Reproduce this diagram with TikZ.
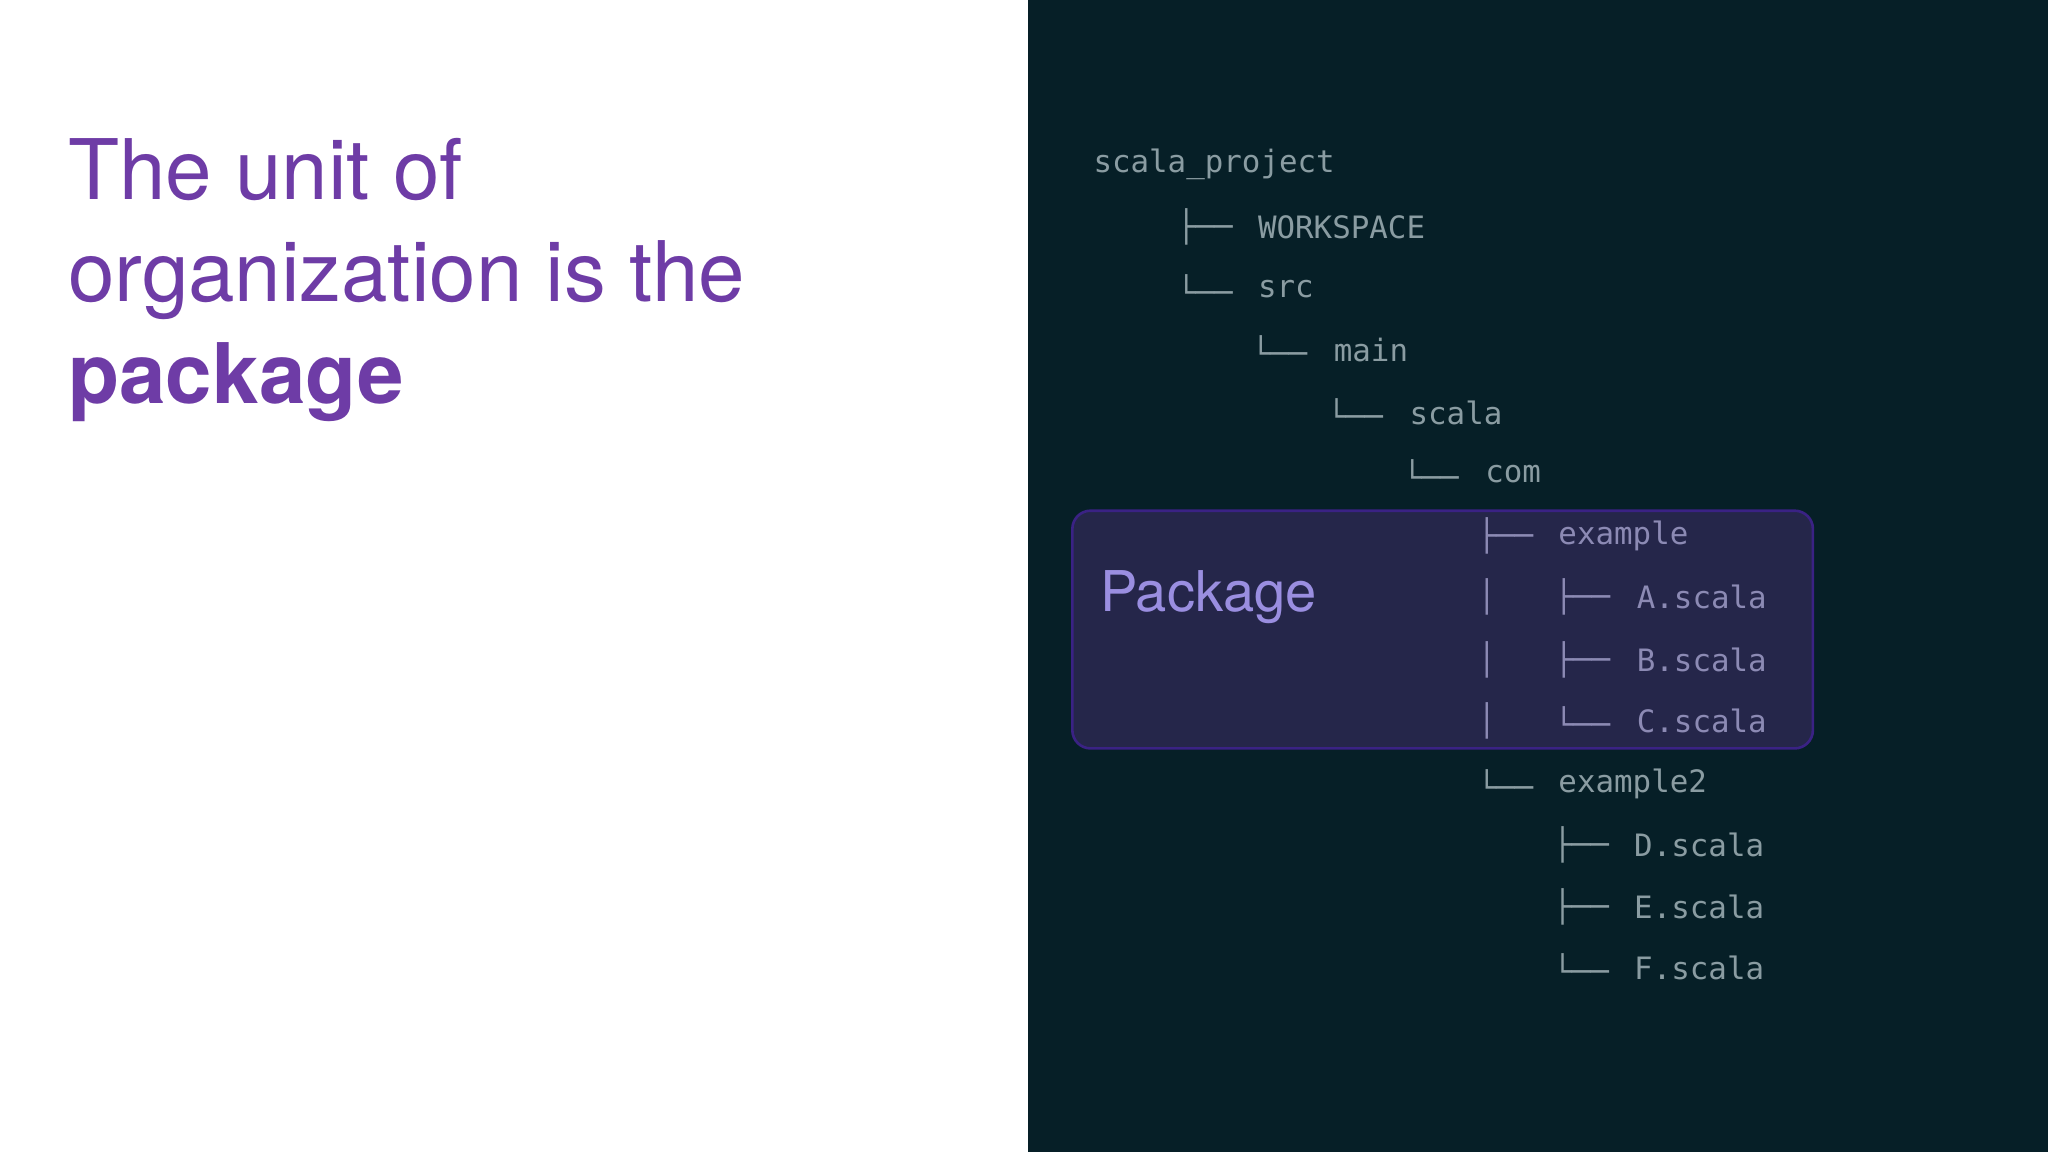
\documentclass[tikz,border=0pt]{standalone}
\usepackage{fontspec}
\setmainfont{TeX Gyre Heros}
\newfontfamily\mono{DejaVu Sans Mono}
\definecolor{bgdark}{HTML}{061F27}
\definecolor{boxfill}{HTML}{25264A}
\definecolor{boxline}{HTML}{3A2284}
\definecolor{titlec}{HTML}{6E3CA6}
\definecolor{treec}{HTML}{8A9CA2}
\definecolor{treein}{HTML}{8C8AB4}
\definecolor{pkgc}{HTML}{9A8EE0}
\begin{document}
\begin{tikzpicture}[x=1pt,y=-1pt,
  row/.style={anchor=west,inner sep=0,font=\mono\fontsize{23.6}{24}\selectfont,text=treec},
  rowin/.style={row,text=treein},
  ttl/.style={anchor=base west,inner sep=0,text=titlec,font=\fontsize{64}{78}\selectfont}]
\useasboundingbox (0,0) rectangle (1568,882);
\fill[white] (0,0) rectangle (787,882);
\fill[bgdark] (787,0) rectangle (1568,882);
\node[ttl] (t1) at (52,153) {The unit of};
\node[ttl] (t2) at (52,231) {organization is the};
\node[ttl] (t3) at (52,309) {\textbf{package}};
\draw[boxline,line width=2pt,fill=boxfill,rounded corners=14pt] (821,391) rectangle (1388,573);
\node[anchor=west,inner sep=0,text=pkgc,font=\fontsize{43}{50}\selectfont] (pkg) at (842,457) {Package};
\node[row] (n1) at (837,126) {scala\_project};
\node[row] (g2) at (901,174) {├──}; \node[row] (n2) at (963,174) {WORKSPACE};
\node[row] (g3) at (901,221) {└──}; \node[row] (n3) at (963,221) {src};
\node[row] (g4) at (958,268) {└──}; \node[row] (n4) at (1021,268) {main};
\node[row] (g5) at (1016,316) {└──}; \node[row] (n5) at (1079,316) {scala};
\node[row] (g6) at (1074,363) {└──}; \node[row] (n6) at (1137,363) {com};
\node[rowin] (g7) at (1131,410) {├──}; \node[rowin] (n7) at (1193,410) {example};
\node[rowin] (v8) at (1131,457) {│}; \node[rowin] (g8) at (1190,457) {├──}; \node[rowin] (n8) at (1253,457) {A.scala};
\node[rowin] (v9) at (1131,505) {│}; \node[rowin] (g9) at (1190,505) {├──}; \node[rowin] (n9) at (1253,505) {B.scala};
\node[rowin] (v10) at (1131,552) {│}; \node[rowin] (g10) at (1190,552) {└──}; \node[rowin] (n10) at (1253,552) {C.scala};
\node[row] (g11) at (1131,600) {└──}; \node[row] (n11) at (1193,600) {example2};
\node[row] (g12) at (1189,647) {├──}; \node[row] (n12) at (1251,647) {D.scala};
\node[row] (g13) at (1189,694) {├──}; \node[row] (n13) at (1251,694) {E.scala};
\node[row] (g14) at (1189,741) {└──}; \node[row] (n14) at (1251,741) {F.scala};
\end{tikzpicture}
\end{document}
